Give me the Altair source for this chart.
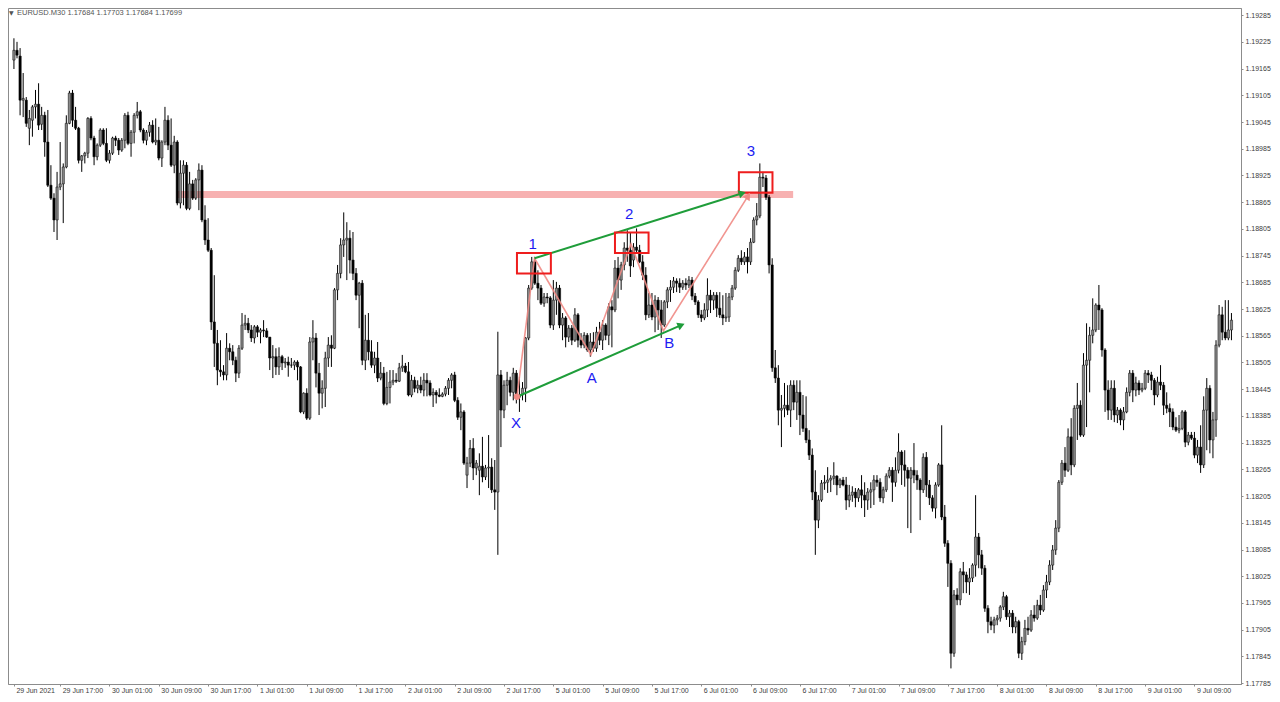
import altair as alt
import pandas as pd

# ---------------- OHLC data (EURUSD, M30) ----------------
opens = [
1.19184,1.19206,1.19193,1.19094,1.19094,1.19031,1.19049,1.19079,1.19085,1.19040,
1.19060,1.19000,1.18903,1.18874,1.18825,1.18899,1.18906,1.18944,1.19042,1.19110,
1.19049,1.19031,1.18959,1.18969,1.18975,1.19053,1.19009,1.18967,1.18993,1.19027,
1.18997,1.18959,1.18975,1.19009,1.19004,1.18982,1.19004,1.19060,1.18997,1.19022,
1.19060,1.19068,1.19027,1.19004,1.19022,1.19038,1.19000,1.19004,1.18964,1.19000,
1.19049,1.18993,1.18948,1.19000,1.18863,1.18930,1.18948,1.18851,1.18906,1.18874,
1.18915,1.18937,1.18825,1.18780,1.18757,1.18596,1.18548,1.18488,1.18484,1.18477,
1.18537,1.18529,1.18510,1.18481,1.18537,1.18589,1.18593,1.18578,1.18560,1.18585,
1.18573,1.18578,1.18576,1.18562,1.18515,1.18518,1.18495,1.18518,1.18504,1.18506,
1.18499,1.18499,1.18506,1.18495,1.18394,1.18436,1.18380,1.18551,1.18560,1.18481,
1.18436,1.18447,1.18515,1.18544,1.18537,1.18668,1.18705,1.18769,1.18780,1.18784,
1.18735,1.18705,1.18656,1.18683,1.18510,1.18555,1.18529,1.18499,1.18515,1.18470,
1.18481,1.18413,1.18449,1.18461,1.18465,1.18463,1.18493,1.18497,1.18484,1.18432,
1.18465,1.18447,1.18454,1.18443,1.18465,1.18459,1.18432,1.18438,1.18432,1.18429,
1.18434,1.18447,1.18465,1.18477,1.18420,1.18382,1.18394,1.18252,1.18279,1.18312,
1.18268,1.18263,1.18272,1.18248,1.18268,1.18270,1.18219,1.18214,1.18477,1.18398,
1.18454,1.18465,1.18438,1.18481,1.18427,1.18432,1.18447,1.18560,1.18672,1.18731,
1.18683,1.18672,1.18638,1.18652,1.18650,1.18589,1.18645,1.18672,1.18589,1.18605,
1.18562,1.18582,1.18555,1.18612,1.18555,1.18544,1.18566,1.18533,1.18551,1.18537,
1.18573,1.18555,1.18589,1.18566,1.18630,1.18623,1.18717,1.18690,1.18724,1.18762,
1.18757,1.18735,1.18764,1.18757,1.18731,1.18701,1.18612,1.18634,1.18607,1.18645,
1.18623,1.18589,1.18641,1.18668,1.18674,1.18688,1.18683,1.18674,1.18683,1.18679,
1.18690,1.18654,1.18641,1.18612,1.18605,1.18623,1.18656,1.18645,1.18656,1.18627,
1.18612,1.18605,1.18607,1.18652,1.18672,1.18712,1.18739,1.18731,1.18742,1.18731,
1.18775,1.18825,1.18834,1.18921,1.18919,1.18876,1.18724,1.18493,1.18470,1.18398,
1.18402,1.18409,1.18398,1.18454,1.18416,1.18438,1.18387,1.18357,1.18331,1.18297,
1.18214,1.18151,1.18196,1.18234,1.18236,1.18241,1.18245,1.18250,1.18230,1.18241,
1.18230,1.18196,1.18207,1.18214,1.18201,1.18219,1.18207,1.18196,1.18214,1.18219,
1.18241,1.18236,1.18201,1.18219,1.18250,1.18263,1.18236,1.18263,1.18304,1.18275,
1.18263,1.18245,1.18263,1.18252,1.18241,1.18219,1.18292,1.18230,1.18201,1.18178,
1.18230,1.18275,1.18158,1.18099,1.18054,1.17852,1.17983,1.17972,1.18035,1.18028,
1.18012,1.18021,1.18050,1.18113,1.18073,1.18043,1.17953,1.17923,1.17915,1.17927,
1.17931,1.17956,1.17979,1.17934,1.17942,1.17911,1.17923,1.17852,1.17878,1.17908,
1.17904,1.17938,1.17931,1.17960,1.17949,1.17994,1.18012,1.18050,1.18084,1.18133,
1.18236,1.18279,1.18263,1.18338,1.18275,1.18402,1.18409,1.18342,1.18499,1.18510,
1.18566,1.18578,1.18634,1.18623,1.18533,1.18443,1.18398,1.18447,1.18387,1.18398,
1.18376,1.18394,1.18438,1.18481,1.18443,1.18459,1.18443,1.18447,1.18481,1.18477,
1.18465,1.18432,1.18461,1.18454,1.18409,1.18402,1.18394,1.18360,1.18353,1.18357,
1.18394,1.18326,1.18342,1.18335,1.18297,1.18315,1.18275,1.18398,1.18447,1.18331,
1.18376,1.18544,1.18612,1.18573,1.18560,1.18578]

highs = [
1.19233,1.19225,1.19211,1.19155,1.19101,1.19072,1.19083,1.19117,1.19132,1.19079,
1.19068,1.19072,1.18948,1.18885,1.18933,1.19000,1.18952,1.19060,1.19115,1.19117,
1.19079,1.19034,1.18971,1.18978,1.19056,1.19058,1.19014,1.18997,1.19031,1.19031,
1.19031,1.18982,1.19012,1.19014,1.19009,1.19009,1.19065,1.19068,1.19027,1.19065,
1.19090,1.19072,1.19031,1.19027,1.19045,1.19049,1.19053,1.19034,1.19004,1.19079,
1.19060,1.19053,1.19014,1.19004,1.18959,1.18959,1.18955,1.18933,1.18915,1.18919,
1.18952,1.18948,1.18858,1.18829,1.18762,1.18701,1.18578,1.18555,1.18499,1.18571,
1.18548,1.18544,1.18518,1.18544,1.18616,1.18612,1.18605,1.18589,1.18589,1.18589,
1.18582,1.18600,1.18582,1.18562,1.18544,1.18537,1.18539,1.18522,1.18515,1.18518,
1.18515,1.18510,1.18510,1.18497,1.18438,1.18447,1.18562,1.18600,1.18571,1.18504,
1.18465,1.18529,1.18562,1.18566,1.18672,1.18724,1.18784,1.18842,1.18820,1.18802,
1.18798,1.18717,1.18686,1.18690,1.18612,1.18616,1.18555,1.18529,1.18551,1.18506,
1.18495,1.18484,1.18488,1.18488,1.18481,1.18504,1.18522,1.18504,1.18506,1.18477,
1.18473,1.18465,1.18473,1.18481,1.18481,1.18465,1.18447,1.18443,1.18447,1.18438,
1.18452,1.18470,1.18481,1.18484,1.18427,1.18413,1.18398,1.18293,1.18331,1.18335,
1.18286,1.18301,1.18338,1.18275,1.18342,1.18290,1.18286,1.18574,1.18488,1.18465,
1.18484,1.18473,1.18493,1.18488,1.18473,1.18461,1.18562,1.18679,1.18742,1.18742,
1.18712,1.18679,1.18661,1.18661,1.18654,1.18690,1.18686,1.18679,1.18616,1.18609,
1.18589,1.18589,1.18627,1.18616,1.18571,1.18573,1.18571,1.18571,1.18573,1.18585,
1.18596,1.18600,1.18593,1.18638,1.18645,1.18735,1.18742,1.18731,1.18775,1.18802,
1.18798,1.18773,1.18806,1.18769,1.18746,1.18719,1.18661,1.18661,1.18656,1.18652,
1.18645,1.18645,1.18674,1.18690,1.18697,1.18694,1.18694,1.18690,1.18694,1.18699,
1.18697,1.18661,1.18645,1.18623,1.18638,1.18694,1.18668,1.18663,1.18663,1.18663,
1.18656,1.18661,1.18661,1.18679,1.18719,1.18746,1.18757,1.18753,1.18762,1.18784,
1.18831,1.18863,1.18952,1.18933,1.18926,1.18881,1.18739,1.18533,1.18499,1.18432,
1.18459,1.18454,1.18465,1.18465,1.18465,1.18465,1.18432,1.18429,1.18353,1.18312,
1.18263,1.18207,1.18241,1.18252,1.18270,1.18252,1.18281,1.18252,1.18245,1.18248,
1.18248,1.18230,1.18227,1.18223,1.18223,1.18252,1.18236,1.18223,1.18236,1.18252,
1.18252,1.18245,1.18226,1.18256,1.18270,1.18270,1.18292,1.18346,1.18308,1.18308,
1.18270,1.18270,1.18324,1.18263,1.18245,1.18301,1.18304,1.18241,1.18207,1.18236,
1.18279,1.18364,1.18185,1.18106,1.18061,1.17994,1.17998,1.18043,1.18057,1.18035,
1.18043,1.18054,1.18207,1.18122,1.18084,1.18050,1.17960,1.17934,1.17934,1.17938,
1.17960,1.17990,1.17983,1.17949,1.17949,1.17934,1.17927,1.17889,1.17927,1.17934,
1.17949,1.17960,1.17972,1.17983,1.18005,1.18028,1.18061,1.18095,1.18151,1.18241,
1.18286,1.18315,1.18357,1.18380,1.18409,1.18459,1.18420,1.18526,1.18593,1.18585,
1.18649,1.18638,1.18679,1.18627,1.18537,1.18465,1.18465,1.18465,1.18405,1.18402,
1.18405,1.18449,1.18488,1.18488,1.18473,1.18465,1.18459,1.18488,1.18488,1.18484,
1.18470,1.18473,1.18499,1.18461,1.18438,1.18413,1.18402,1.18382,1.18387,1.18398,
1.18398,1.18349,1.18349,1.18349,1.18331,1.18364,1.18429,1.18470,1.18454,1.18394,
1.18555,1.18634,1.18630,1.18645,1.18645,1.18616]

lows = [
1.19164,1.19188,1.19060,1.19056,1.19034,1.18993,1.19012,1.19053,1.19027,1.19027,
1.18967,1.18899,1.18870,1.18798,1.18780,1.18892,1.18818,1.18941,1.19040,1.19034,
1.19027,1.18952,1.18933,1.18952,1.18964,1.19004,1.18948,1.18959,1.18989,1.18993,
1.18955,1.18952,1.18971,1.18991,1.18971,1.18978,1.18986,1.18993,1.18967,1.18997,
1.19053,1.19022,1.18997,1.18993,1.19012,1.18997,1.18993,1.18959,1.18944,1.18993,
1.18982,1.18944,1.18930,1.18858,1.18851,1.18858,1.18847,1.18847,1.18870,1.18870,
1.18847,1.18820,1.18769,1.18753,1.18578,1.18495,1.18454,1.18473,1.18465,1.18465,
1.18510,1.18499,1.18461,1.18470,1.18533,1.18578,1.18571,1.18551,1.18548,1.18562,
1.18548,1.18562,1.18560,1.18488,1.18470,1.18477,1.18477,1.18488,1.18493,1.18473,
1.18493,1.18488,1.18465,1.18391,1.18389,1.18376,1.18376,1.18510,1.18449,1.18387,
1.18402,1.18405,1.18495,1.18495,1.18535,1.18645,1.18694,1.18742,1.18690,1.18705,
1.18690,1.18645,1.18582,1.18499,1.18488,1.18510,1.18493,1.18481,1.18461,1.18465,
1.18409,1.18409,1.18413,1.18454,1.18459,1.18461,1.18484,1.18481,1.18429,1.18427,
1.18438,1.18436,1.18436,1.18429,1.18429,1.18429,1.18405,1.18413,1.18427,1.18427,
1.18429,1.18432,1.18447,1.18416,1.18376,1.18353,1.18275,1.18223,1.18270,1.18241,
1.18252,1.18207,1.18236,1.18241,1.18223,1.18212,1.18174,1.18073,1.18315,1.18380,
1.18409,1.18429,1.18420,1.18413,1.18394,1.18420,1.18416,1.18555,1.18668,1.18679,
1.18645,1.18634,1.18630,1.18638,1.18582,1.18578,1.18612,1.18582,1.18555,1.18539,
1.18551,1.18544,1.18551,1.18539,1.18537,1.18537,1.18529,1.18518,1.18529,1.18529,
1.18544,1.18533,1.18555,1.18544,1.18539,1.18618,1.18649,1.18668,1.18712,1.18731,
1.18697,1.18719,1.18750,1.18728,1.18690,1.18600,1.18605,1.18600,1.18573,1.18578,
1.18560,1.18585,1.18627,1.18641,1.18661,1.18663,1.18661,1.18668,1.18668,1.18672,
1.18645,1.18634,1.18605,1.18596,1.18600,1.18607,1.18616,1.18623,1.18607,1.18605,
1.18589,1.18596,1.18596,1.18645,1.18668,1.18708,1.18724,1.18724,1.18705,1.18724,
1.18773,1.18813,1.18829,1.18899,1.18870,1.18705,1.18484,1.18459,1.18364,1.18315,
1.18382,1.18387,1.18360,1.18398,1.18376,1.18342,1.18349,1.18324,1.18286,1.18196,
1.18073,1.18133,1.18192,1.18219,1.18212,1.18214,1.18230,1.18207,1.18223,1.18227,
1.18174,1.18180,1.18192,1.18180,1.18192,1.18178,1.18158,1.18174,1.18178,1.18185,
1.18226,1.18192,1.18189,1.18214,1.18245,1.18192,1.18226,1.18256,1.18230,1.18226,
1.18133,1.18122,1.18234,1.18219,1.18151,1.18212,1.18203,1.18185,1.18170,1.18155,
1.18226,1.18151,1.18091,1.18001,1.17818,1.17844,1.17960,1.17960,1.17987,1.17987,
1.17983,1.18012,1.18024,1.18043,1.18028,1.17945,1.17897,1.17904,1.17897,1.17915,
1.17923,1.17949,1.17927,1.17911,1.17897,1.17897,1.17841,1.17837,1.17870,1.17893,
1.17900,1.17923,1.17927,1.17938,1.17945,1.17976,1.18005,1.18039,1.18073,1.18124,
1.18230,1.18248,1.18259,1.18252,1.18270,1.18331,1.18338,1.18338,1.18360,1.18438,
1.18548,1.18573,1.18578,1.18518,1.18394,1.18376,1.18376,1.18371,1.18369,1.18364,
1.18353,1.18391,1.18429,1.18416,1.18429,1.18432,1.18438,1.18443,1.18459,1.18443,
1.18409,1.18427,1.18443,1.18387,1.18391,1.18360,1.18353,1.18349,1.18346,1.18353,
1.18315,1.18319,1.18331,1.18290,1.18279,1.18257,1.18268,1.18308,1.18301,1.18290,
1.18338,1.18539,1.18555,1.18555,1.18555,1.18555]

closes = [
1.19206,1.19195,1.19094,1.19098,1.19042,1.19053,1.19079,1.19085,1.19038,1.19060,
1.19000,1.18903,1.18874,1.18825,1.18899,1.18906,1.18944,1.19042,1.19110,1.19049,
1.19031,1.18959,1.18969,1.18975,1.19053,1.19009,1.18967,1.18993,1.19027,1.18997,
1.18959,1.18975,1.19009,1.19004,1.18982,1.19004,1.19060,1.18997,1.19022,1.19060,
1.19068,1.19027,1.19004,1.19022,1.19038,1.19000,1.19004,1.18964,1.19000,1.19049,
1.18993,1.18948,1.19000,1.18863,1.18930,1.18948,1.18851,1.18906,1.18874,1.18915,
1.18937,1.18825,1.18780,1.18757,1.18596,1.18548,1.18488,1.18484,1.18477,1.18537,
1.18529,1.18510,1.18481,1.18537,1.18589,1.18593,1.18578,1.18560,1.18585,1.18573,
1.18578,1.18576,1.18562,1.18515,1.18518,1.18495,1.18518,1.18504,1.18506,1.18499,
1.18499,1.18506,1.18495,1.18394,1.18436,1.18380,1.18551,1.18560,1.18481,1.18436,
1.18447,1.18515,1.18544,1.18537,1.18668,1.18705,1.18769,1.18780,1.18784,1.18735,
1.18705,1.18656,1.18683,1.18510,1.18555,1.18529,1.18499,1.18515,1.18470,1.18481,
1.18413,1.18449,1.18461,1.18465,1.18463,1.18493,1.18497,1.18484,1.18432,1.18465,
1.18447,1.18454,1.18443,1.18465,1.18459,1.18432,1.18438,1.18432,1.18429,1.18434,
1.18447,1.18465,1.18477,1.18420,1.18382,1.18394,1.18279,1.18279,1.18312,1.18268,
1.18279,1.18272,1.18248,1.18268,1.18270,1.18219,1.18214,1.18477,1.18398,1.18454,
1.18465,1.18438,1.18481,1.18427,1.18432,1.18447,1.18560,1.18672,1.18731,1.18683,
1.18672,1.18638,1.18652,1.18650,1.18589,1.18645,1.18672,1.18589,1.18605,1.18562,
1.18582,1.18555,1.18612,1.18555,1.18544,1.18566,1.18533,1.18551,1.18537,1.18573,
1.18555,1.18589,1.18566,1.18630,1.18623,1.18717,1.18690,1.18724,1.18762,1.18757,
1.18722,1.18764,1.18757,1.18731,1.18701,1.18612,1.18634,1.18607,1.18645,1.18623,
1.18589,1.18641,1.18668,1.18674,1.18688,1.18683,1.18674,1.18683,1.18679,1.18690,
1.18654,1.18641,1.18612,1.18605,1.18623,1.18656,1.18645,1.18656,1.18627,1.18612,
1.18605,1.18607,1.18652,1.18672,1.18712,1.18739,1.18731,1.18742,1.18731,1.18775,
1.18825,1.18834,1.18921,1.18919,1.18876,1.18724,1.18493,1.18470,1.18398,1.18402,
1.18409,1.18398,1.18454,1.18416,1.18438,1.18387,1.18357,1.18331,1.18297,1.18214,
1.18151,1.18196,1.18234,1.18236,1.18241,1.18245,1.18250,1.18230,1.18241,1.18230,
1.18196,1.18207,1.18214,1.18201,1.18219,1.18207,1.18196,1.18214,1.18219,1.18241,
1.18236,1.18201,1.18219,1.18250,1.18263,1.18236,1.18263,1.18304,1.18275,1.18263,
1.18245,1.18263,1.18252,1.18241,1.18219,1.18292,1.18230,1.18201,1.18178,1.18230,
1.18275,1.18158,1.18099,1.18054,1.17852,1.17983,1.17972,1.18035,1.18028,1.18012,
1.18021,1.18050,1.18113,1.18073,1.18043,1.17953,1.17923,1.17915,1.17927,1.17931,
1.17956,1.17979,1.17934,1.17942,1.17911,1.17923,1.17852,1.17878,1.17908,1.17904,
1.17938,1.17931,1.17960,1.17949,1.17994,1.18012,1.18050,1.18084,1.18133,1.18236,
1.18279,1.18263,1.18338,1.18275,1.18402,1.18409,1.18342,1.18499,1.18510,1.18566,
1.18578,1.18634,1.18623,1.18533,1.18443,1.18398,1.18447,1.18387,1.18398,1.18376,
1.18394,1.18438,1.18481,1.18443,1.18459,1.18443,1.18447,1.18481,1.18477,1.18465,
1.18432,1.18461,1.18454,1.18409,1.18402,1.18394,1.18360,1.18353,1.18357,1.18394,
1.18326,1.18342,1.18335,1.18297,1.18315,1.18275,1.18398,1.18447,1.18331,1.18376,
1.18544,1.18612,1.18573,1.18560,1.18578,1.18600]

# ---------------- axis ticks ----------------
tick_bars = [0, 15, 31, 47, 63, 79, 95, 111, 127, 143, 159, 175, 191, 207, 223,
             239, 255, 271, 287, 303, 319, 335, 351, 367, 383]
tick_labels = ["29 Jun 2021", "29 Jun 17:00", "30 Jun 01:00", "30 Jun 09:00", "30 Jun 17:00",
               "1 Jul 01:00", "1 Jul 09:00", "1 Jul 17:00", "2 Jul 01:00", "2 Jul 09:00",
               "2 Jul 17:00", "5 Jul 01:00", "5 Jul 09:00", "5 Jul 17:00", "6 Jul 01:00",
               "6 Jul 09:00", "6 Jul 17:00", "7 Jul 01:00", "7 Jul 09:00", "7 Jul 17:00",
               "8 Jul 01:00", "8 Jul 09:00", "8 Jul 17:00", "9 Jul 01:00", "9 Jul 09:00"]
price_ticks = [1.17785, 1.17845, 1.17905, 1.17965, 1.18025, 1.18085, 1.18145, 1.18205,
               1.18265, 1.18325, 1.18385, 1.18445, 1.18505, 1.18565, 1.18625, 1.18685,
               1.18745, 1.18805, 1.18865, 1.18925, 1.18985, 1.19045, 1.19105, 1.19165,
               1.19225, 1.19285]

# ---------------- annotations (bar index, price) ----------------
band_start, band_end, band_price = 52.8, 252.8, 1.18882
box_i1 = [163.2, 195.0, 235.2]
box_i2 = [174.2, 205.9, 246.1]
box_lo = [1.18705, 1.18751, 1.18886]
box_hi = [1.18751, 1.18797, 1.18932]
zz_i = [163.2, 168.9, 187.2, 200.2, 210.7, 238.2]
zz_p = [1.18428, 1.18739, 1.18522, 1.18771, 1.18576, 1.18879]
green_i1 = [163.2, 168.9]
green_p1 = [1.18428, 1.18739]
green_i2 = [216.5, 236.3]
green_p2 = [1.18589, 1.18885]
lab_text = ["X", "1", "A", "2", "B", "3"]
lab_i = [162.9, 168.3, 187.5, 199.6, 212.6, 239.1]
lab_p = [1.18370, 1.18771, 1.18470, 1.18838, 1.18549, 1.18980]
header = "EURUSD.M30  1.17684 1.17703 1.17684 1.17699"

GREEN = "#1f9d3a"
SALMON = "#f08a84"

df = pd.DataFrame({"bar": list(range(len(opens))), "open": opens, "high": highs,
                   "low": lows, "close": closes})
df["dir"] = ["up" if c >= o else "down" for o, c in zip(opens, closes)]

# whole SVG must stay within 1264 x 686 so the page does not overflow
W, H = 1233, 676
xs = alt.Scale(domain=[-0.3, 396.48], nice=False, zero=False)
ys = alt.Scale(domain=[1.17783, 1.19301], nice=False, zero=False)

label_expr = ("[" + ",".join("'%s'" % t for t in tick_labels) + "][indexof(["
              + ",".join(str(b) for b in tick_bars) + "], datum.value)]")

x_axis = alt.Axis(values=tick_bars, labelExpr=label_expr, title=None, grid=False,
                  orient="bottom", labelAlign="left", labelBaseline="top", labelOffset=2,
                  labelPadding=0, tickSize=2, tickColor="#8c8c8c", domainColor="#8c8c8c",
                  labelColor="#3c3c3c", labelFont="Liberation Sans", labelFontSize=7,
                  labelOverlap=False, labelFlush=False)
y_axis = alt.Axis(values=price_ticks, format=".5f", title=None, grid=False, orient="right",
                  labelAlign="left", labelBaseline="middle", labelPadding=2, tickSize=2,
                  tickColor="#8c8c8c", domainColor="#8c8c8c", labelColor="#3c3c3c",
                  labelFont="Liberation Sans", labelFontSize=7, labelOverlap=False,
                  labelFlush=False)


def X(field):
    return alt.X(field, scale=xs, axis=x_axis)


def Y(field):
    return alt.Y(field, scale=ys, axis=y_axis)


band = alt.Chart(pd.DataFrame({"i1": [band_start], "i2": [band_end], "p": [band_price]})).mark_rule(
    color="#f6a9a9", strokeWidth=7, opacity=0.9, clip=True).encode(
    x=X("i1:Q"), x2="i2:Q", y=Y("p:Q"))

wicks = alt.Chart(df).mark_rule(color="black", strokeWidth=1, clip=True).encode(
    x=X("bar:Q"), y=Y("low:Q"), y2="high:Q")

bodies = alt.Chart(df).mark_bar(size=2.3, stroke="black", strokeWidth=0.5, clip=True).encode(
    x=X("bar:Q"), y=Y("open:Q"), y2="close:Q",
    color=alt.Color("dir:N", scale=alt.Scale(domain=["up", "down"], range=["#8a8a8a", "#000000"]),
                    legend=None))

zz = alt.Chart(pd.DataFrame({"i": zz_i, "p": zz_p, "k": list(range(len(zz_i)))})).mark_line(
    color=SALMON, strokeWidth=1.6, opacity=0.9, clip=True).encode(
    x=X("i:Q"), y=Y("p:Q"), order="k:Q")

greens = alt.Chart(pd.DataFrame({"i1": green_i1, "p1": green_p1, "i2": green_i2, "p2": green_p2})).mark_rule(
    color=GREEN, strokeWidth=2, clip=True).encode(
    x=X("i1:Q"), y=Y("p1:Q"), x2="i2:Q", y2="p2:Q")

boxes = alt.Chart(pd.DataFrame({"i1": box_i1, "i2": box_i2, "lo": box_lo, "hi": box_hi})).mark_rect(
    fillOpacity=0, stroke="#ee1d1d", strokeWidth=2, clip=True).encode(
    x=X("i1:Q"), x2="i2:Q", y=Y("lo:Q"), y2="hi:Q")

arrows = alt.Chart(pd.DataFrame({"i": [green_i2[0], green_i2[1], zz_i[-1]],
                                 "p": [green_p2[0], green_p2[1], zz_p[-1]],
                                 "ang": [336.6, 342.8, 302.5],
                                 "col": [GREEN, GREEN, SALMON]})).mark_point(
    shape="triangle-right", filled=True, size=70, opacity=1).encode(
    x=X("i:Q"), y=Y("p:Q"),
    angle=alt.Angle("ang:Q", scale=None), color=alt.Color("col:N", scale=None))

xdot = alt.Chart(pd.DataFrame({"i": [zz_i[0]], "p": [zz_p[0]]})).mark_circle(
    size=40, color=SALMON, opacity=1).encode(x=X("i:Q"), y=Y("p:Q"))

labels = alt.Chart(pd.DataFrame({"t": lab_text, "i": lab_i, "p": lab_p})).mark_text(
    font="Liberation Sans", fontSize=15, color="#1c1cf2", align="center", baseline="middle").encode(
    x=X("i:Q"), y=Y("p:Q"), text="t:N")

head_tri = alt.Chart(pd.DataFrame({"t": ["\u25bc"]})).mark_text(
    font="DejaVu Sans", fontSize=6, color="#555555", align="left", baseline="top").encode(
    x=alt.value(1), y=alt.value(2), text="t:N")
head = alt.Chart(pd.DataFrame({"t": [header]})).mark_text(
    font="Liberation Sans", fontSize=7.5, color="#555555", align="left", baseline="top").encode(
    x=alt.value(9), y=alt.value(1), text="t:N")

chart = alt.layer(band, wicks, bodies, zz, greens, boxes, arrows, xdot, labels, head_tri, head).properties(
    width=W, height=H, background="white",
    autosize=alt.AutoSizeParams(type="none"),
    padding={"left": 0, "top": 0, "right": 31, "bottom": 10},
).configure_view(stroke="#8c8c8c", strokeWidth=1)

chart.save("out.html", embed_options={"renderer": "svg", "actions": False})
